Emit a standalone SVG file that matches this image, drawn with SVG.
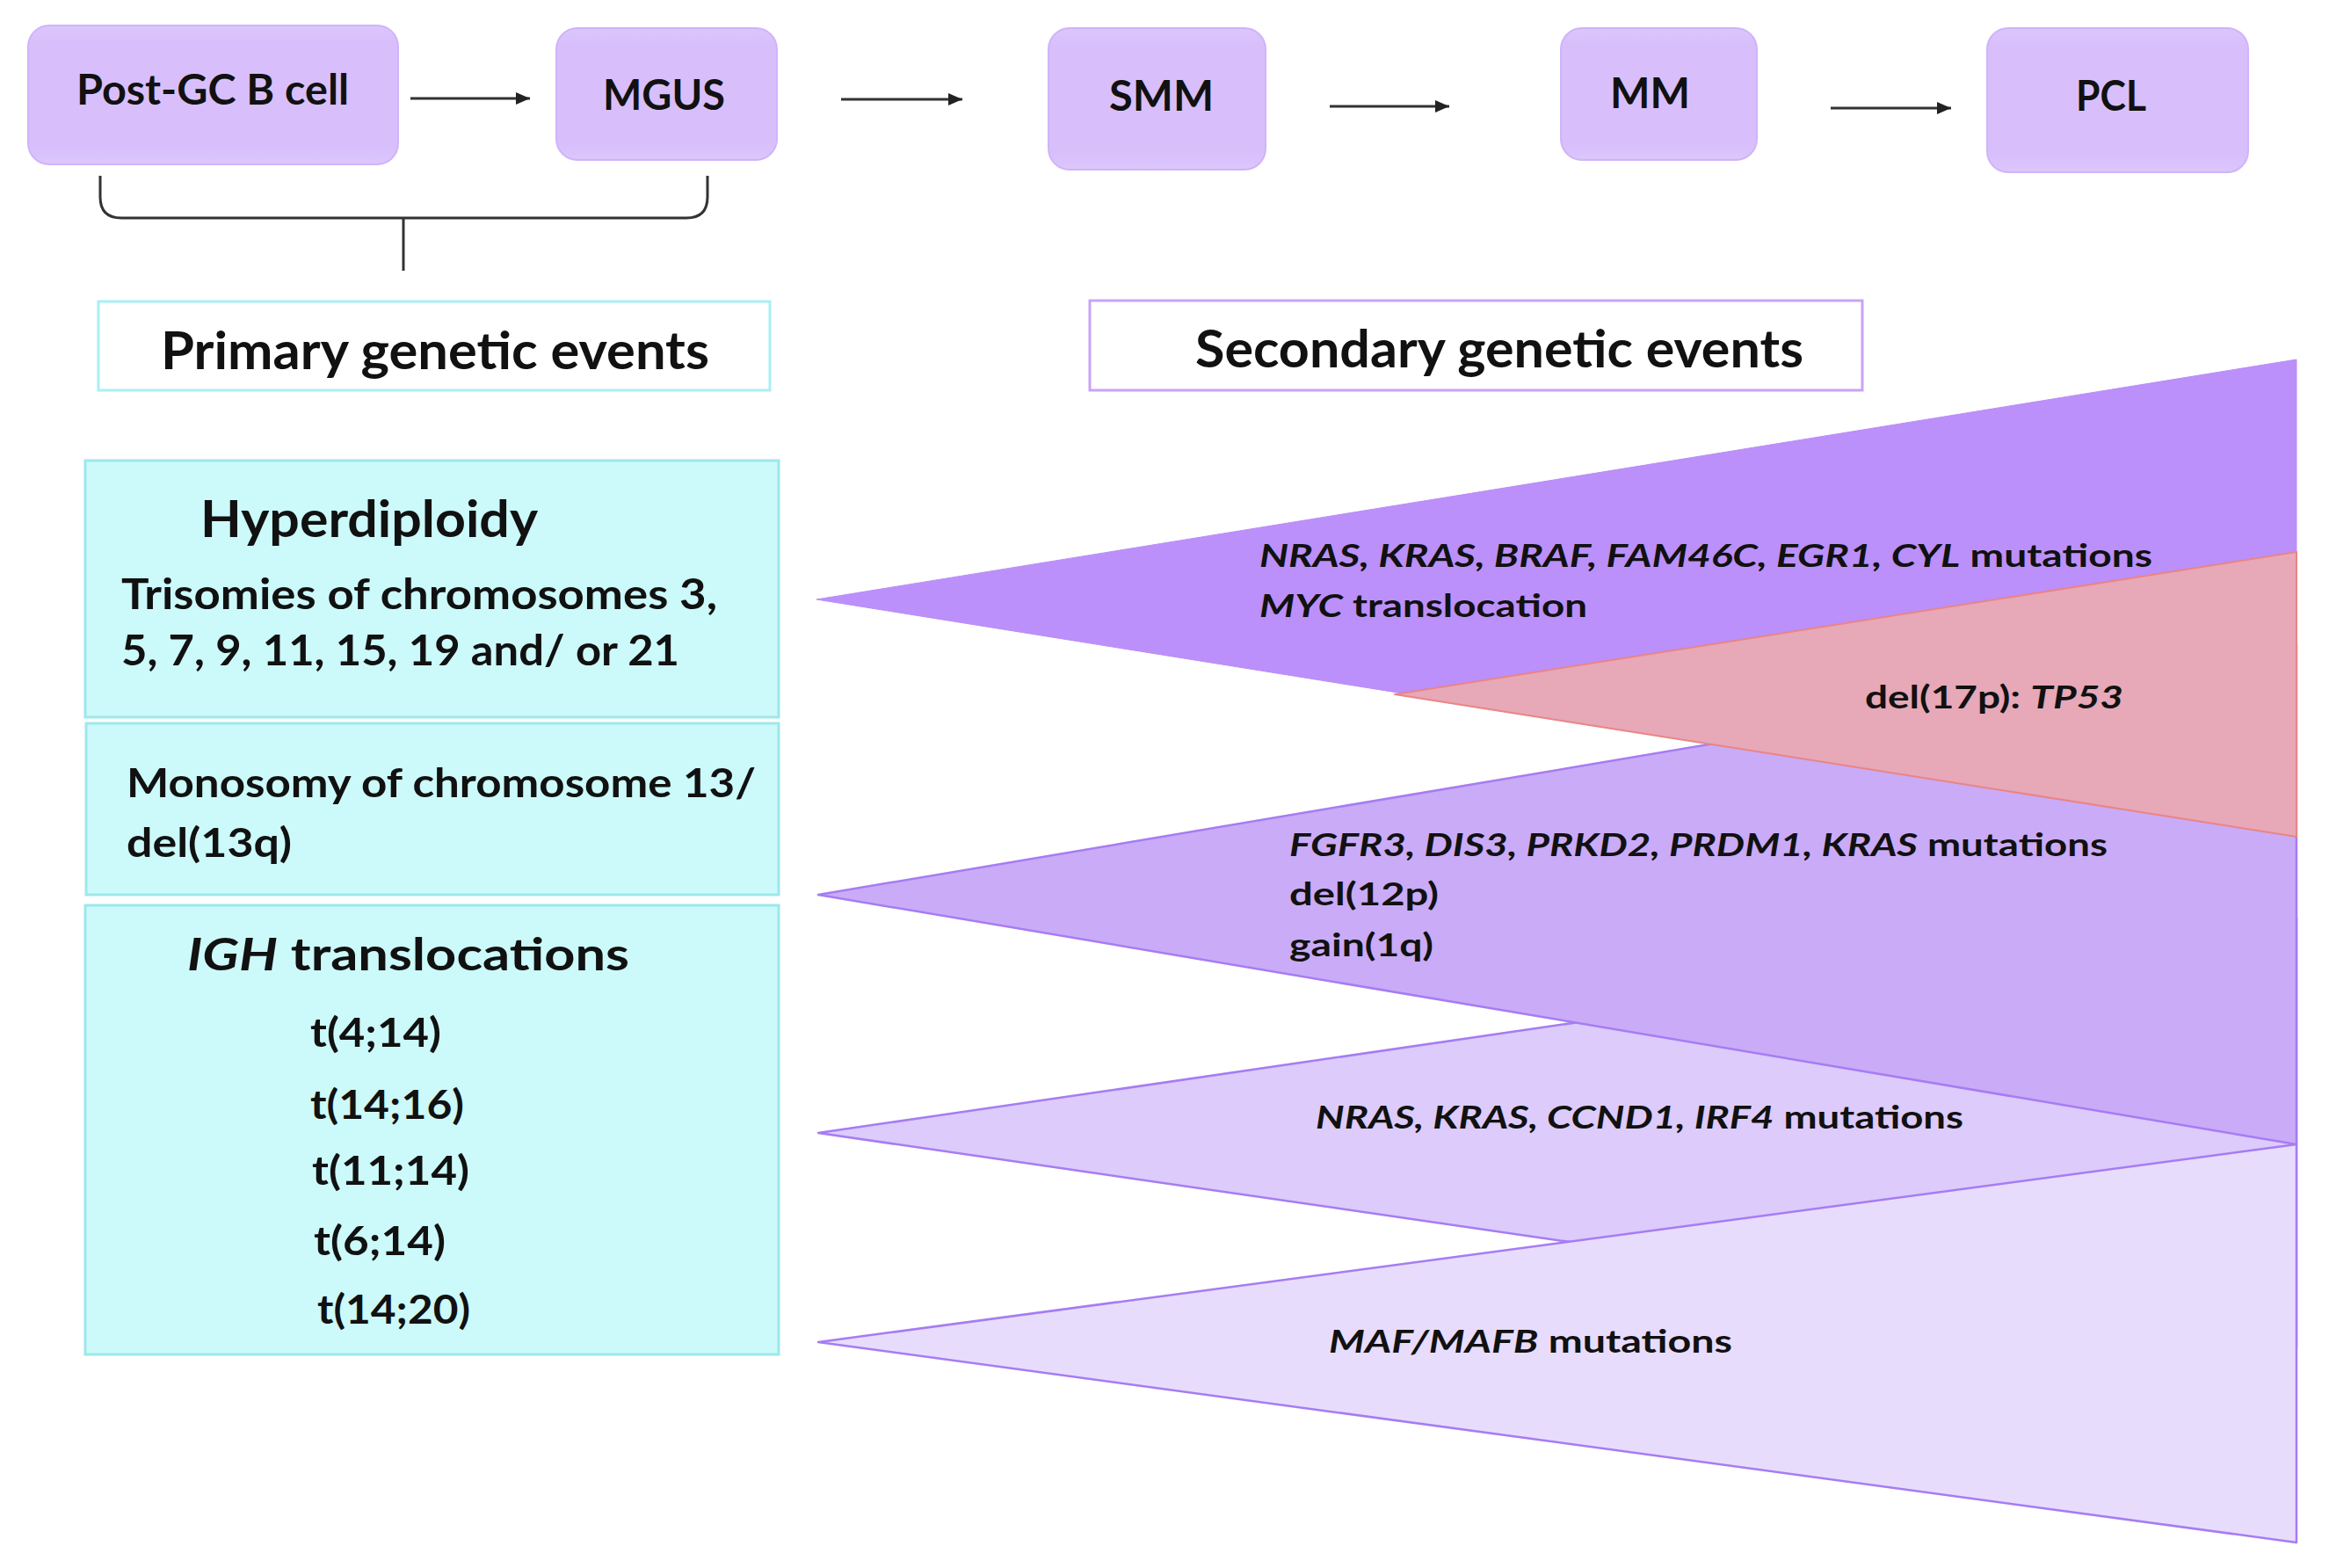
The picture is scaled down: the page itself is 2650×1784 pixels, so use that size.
<svg xmlns="http://www.w3.org/2000/svg" width="2650" height="1784" viewBox="0 0 2650 1784">
<style>
text{font-family:Lato,"Liberation Sans",Arial,sans-serif;font-weight:bold;fill:#111;}
.i{font-style:italic;}
.stage{fill:url(#gel);stroke:#cfb4f9;stroke-width:2;}
.cyan{fill:#ccf9f9;stroke:#9de8ea;stroke-width:3;}
.conn{fill:none;stroke:#333;stroke-width:3;}
.tri{stroke:#a67cf3;stroke-width:2.5;stroke-linejoin:round;}
</style>
<defs>
<linearGradient id="gel" x1="0" y1="0" x2="0" y2="1">
<stop offset="0" stop-color="#dcc6fc"/>
<stop offset="0.12" stop-color="#d8bffc"/>
<stop offset="0.88" stop-color="#d8bffc"/>
<stop offset="1" stop-color="#dcc7fc"/>
</linearGradient>
<marker id="ah" viewBox="0 0 16 14" markerWidth="16" markerHeight="14" refX="16" refY="7" orient="auto" markerUnits="userSpaceOnUse">
<path d="M0,0 L16,7 L0,14 z" fill="#222"/>
</marker>
</defs>
<rect width="2650" height="1784" fill="#fff"/>

<g id="stage-postgc"><rect class="stage" x="32" y="29" width="421" height="158" rx="24"/><text x="87" y="119" font-size="47" textLength="310" lengthAdjust="spacingAndGlyphs">Post-GC B cell</text></g>
<g id="stage-mgus"><rect class="stage" x="633" y="32" width="251" height="150" rx="24"/><text x="686" y="125" font-size="47" textLength="139" lengthAdjust="spacingAndGlyphs">MGUS</text></g>
<g id="stage-smm"><rect class="stage" x="1193" y="32" width="247" height="161" rx="24"/><text x="1262" y="126" font-size="47" textLength="119" lengthAdjust="spacingAndGlyphs">SMM</text></g>
<g id="stage-mm"><rect class="stage" x="1776" y="32" width="223" height="150" rx="24"/><text x="1832" y="123" font-size="47" textLength="91" lengthAdjust="spacingAndGlyphs">MM</text></g>
<g id="stage-pcl"><rect class="stage" x="2261" y="32" width="297" height="164" rx="24"/><text x="2362" y="126" font-size="47" textLength="80" lengthAdjust="spacingAndGlyphs">PCL</text></g>

<g id="connectors">
<line class="conn" x1="467" y1="112" x2="603" y2="112" marker-end="url(#ah)"/>
<line class="conn" x1="957" y1="113" x2="1095" y2="113" marker-end="url(#ah)"/>
<line class="conn" x1="1513" y1="121" x2="1649" y2="121" marker-end="url(#ah)"/>
<line class="conn" x1="2083" y1="123" x2="2220" y2="123" marker-end="url(#ah)"/>
<path class="conn" d="M114,200 L114,224 Q114,248 138,248 L781,248 Q805,248 805,224 L805,200"/>
<path class="conn" d="M459,248 L459,308"/>
</g>

<g id="primary-header"><rect x="112" y="343" width="764" height="101" fill="#fff" stroke="#a8f0f3" stroke-width="3"/><text x="183" y="420" font-size="60" textLength="624" lengthAdjust="spacingAndGlyphs">Primary genetic events</text></g>
<g id="secondary-header"><rect x="1240" y="342" width="879" height="102" fill="#fff" stroke="#c9a3f6" stroke-width="3"/><text x="1360" y="418" font-size="60" textLength="692" lengthAdjust="spacingAndGlyphs">Secondary genetic events</text></g>

<g id="hyperdiploidy"><rect class="cyan" x="97" y="524" width="789" height="292"/>
<text x="228" y="611" font-size="57" textLength="384" lengthAdjust="spacingAndGlyphs">Hyperdiploidy</text>
<text x="138" y="693" font-size="47" textLength="678" lengthAdjust="spacingAndGlyphs">Trisomies of chromosomes 3,</text>
<text x="138" y="757" font-size="47" textLength="635" lengthAdjust="spacingAndGlyphs">5, 7, 9, 11, 15, 19 and/ or 21</text></g>
<g id="monosomy"><rect class="cyan" x="98" y="823" width="788" height="195"/>
<text x="144" y="907" font-size="46" textLength="716" lengthAdjust="spacingAndGlyphs">Monosomy of chromosome 13/</text>
<text x="144" y="975" font-size="46" textLength="188" lengthAdjust="spacingAndGlyphs">del(13q)</text></g>
<g id="igh"><rect class="cyan" x="97" y="1030" width="789" height="511"/>
<text x="213" y="1104" font-size="52" textLength="503" lengthAdjust="spacingAndGlyphs"><tspan class="i">IGH</tspan> translocations</text>
<text x="353" y="1191" font-size="46" textLength="149" lengthAdjust="spacingAndGlyphs">t(4;14)</text>
<text x="353" y="1273" font-size="46" textLength="175" lengthAdjust="spacingAndGlyphs">t(14;16)</text>
<text x="355" y="1348" font-size="46" textLength="179" lengthAdjust="spacingAndGlyphs">t(11;14)</text>
<text x="357" y="1428" font-size="46" textLength="150" lengthAdjust="spacingAndGlyphs">t(6;14)</text>
<text x="361" y="1506" font-size="46" textLength="174" lengthAdjust="spacingAndGlyphs">t(14;20)</text></g>

<g id="triangle-ccnd1"><polygon class="tri" fill="#dccbfb" points="931,1289 2613,1044 2613,1533"/></g>
<g id="triangle-maf"><polygon class="tri" fill="#e8dcfd" points="931,1527 2613,1302 2613,1755"/>
<text x="1512" y="1539" font-size="37" textLength="459" lengthAdjust="spacingAndGlyphs"><tspan class="i">MAF/MAFB</tspan> mutations</text></g>
<g id="triangle-fgfr3"><polygon class="tri" fill="#caabf8" points="931,1018 2613,734 2613,1302"/>
<text x="1467" y="974" font-size="37" textLength="931" lengthAdjust="spacingAndGlyphs"><tspan class="i">FGFR3, DIS3, PRKD2, PRDM1, KRAS</tspan> mutations</text>
<text x="1467" y="1030" font-size="37" textLength="170" lengthAdjust="spacingAndGlyphs">del(12p)</text>
<text x="1467" y="1088" font-size="37" textLength="164" lengthAdjust="spacingAndGlyphs">gain(1q)</text></g>
<g id="triangle-ccnd1-label"><text x="1497" y="1284" font-size="37" textLength="737" lengthAdjust="spacingAndGlyphs"><tspan class="i">NRAS, KRAS, CCND1, IRF4</tspan> mutations</text></g>
<g id="triangle-nras"><polygon fill="#bb90fa" stroke="#b98cf8" stroke-width="1" points="929,682 2613,409 2613,952"/>
<text x="1433" y="645" font-size="37" textLength="1016" lengthAdjust="spacingAndGlyphs"><tspan class="i">NRAS, KRAS, BRAF, FAM46C, EGR1, CYL</tspan> mutations</text>
<text x="1433" y="702" font-size="37" textLength="373" lengthAdjust="spacingAndGlyphs"><tspan class="i">MYC</tspan> translocation</text></g>
<g id="triangle-tp53"><polygon fill="#e7a8b8" stroke="#e98585" stroke-width="2" stroke-linejoin="round" points="1587,790 2613,628 2613,952"/>
<text x="2122" y="806" font-size="37" textLength="294" lengthAdjust="spacingAndGlyphs">del(17p): <tspan class="i">TP53</tspan></text></g>
</svg>
